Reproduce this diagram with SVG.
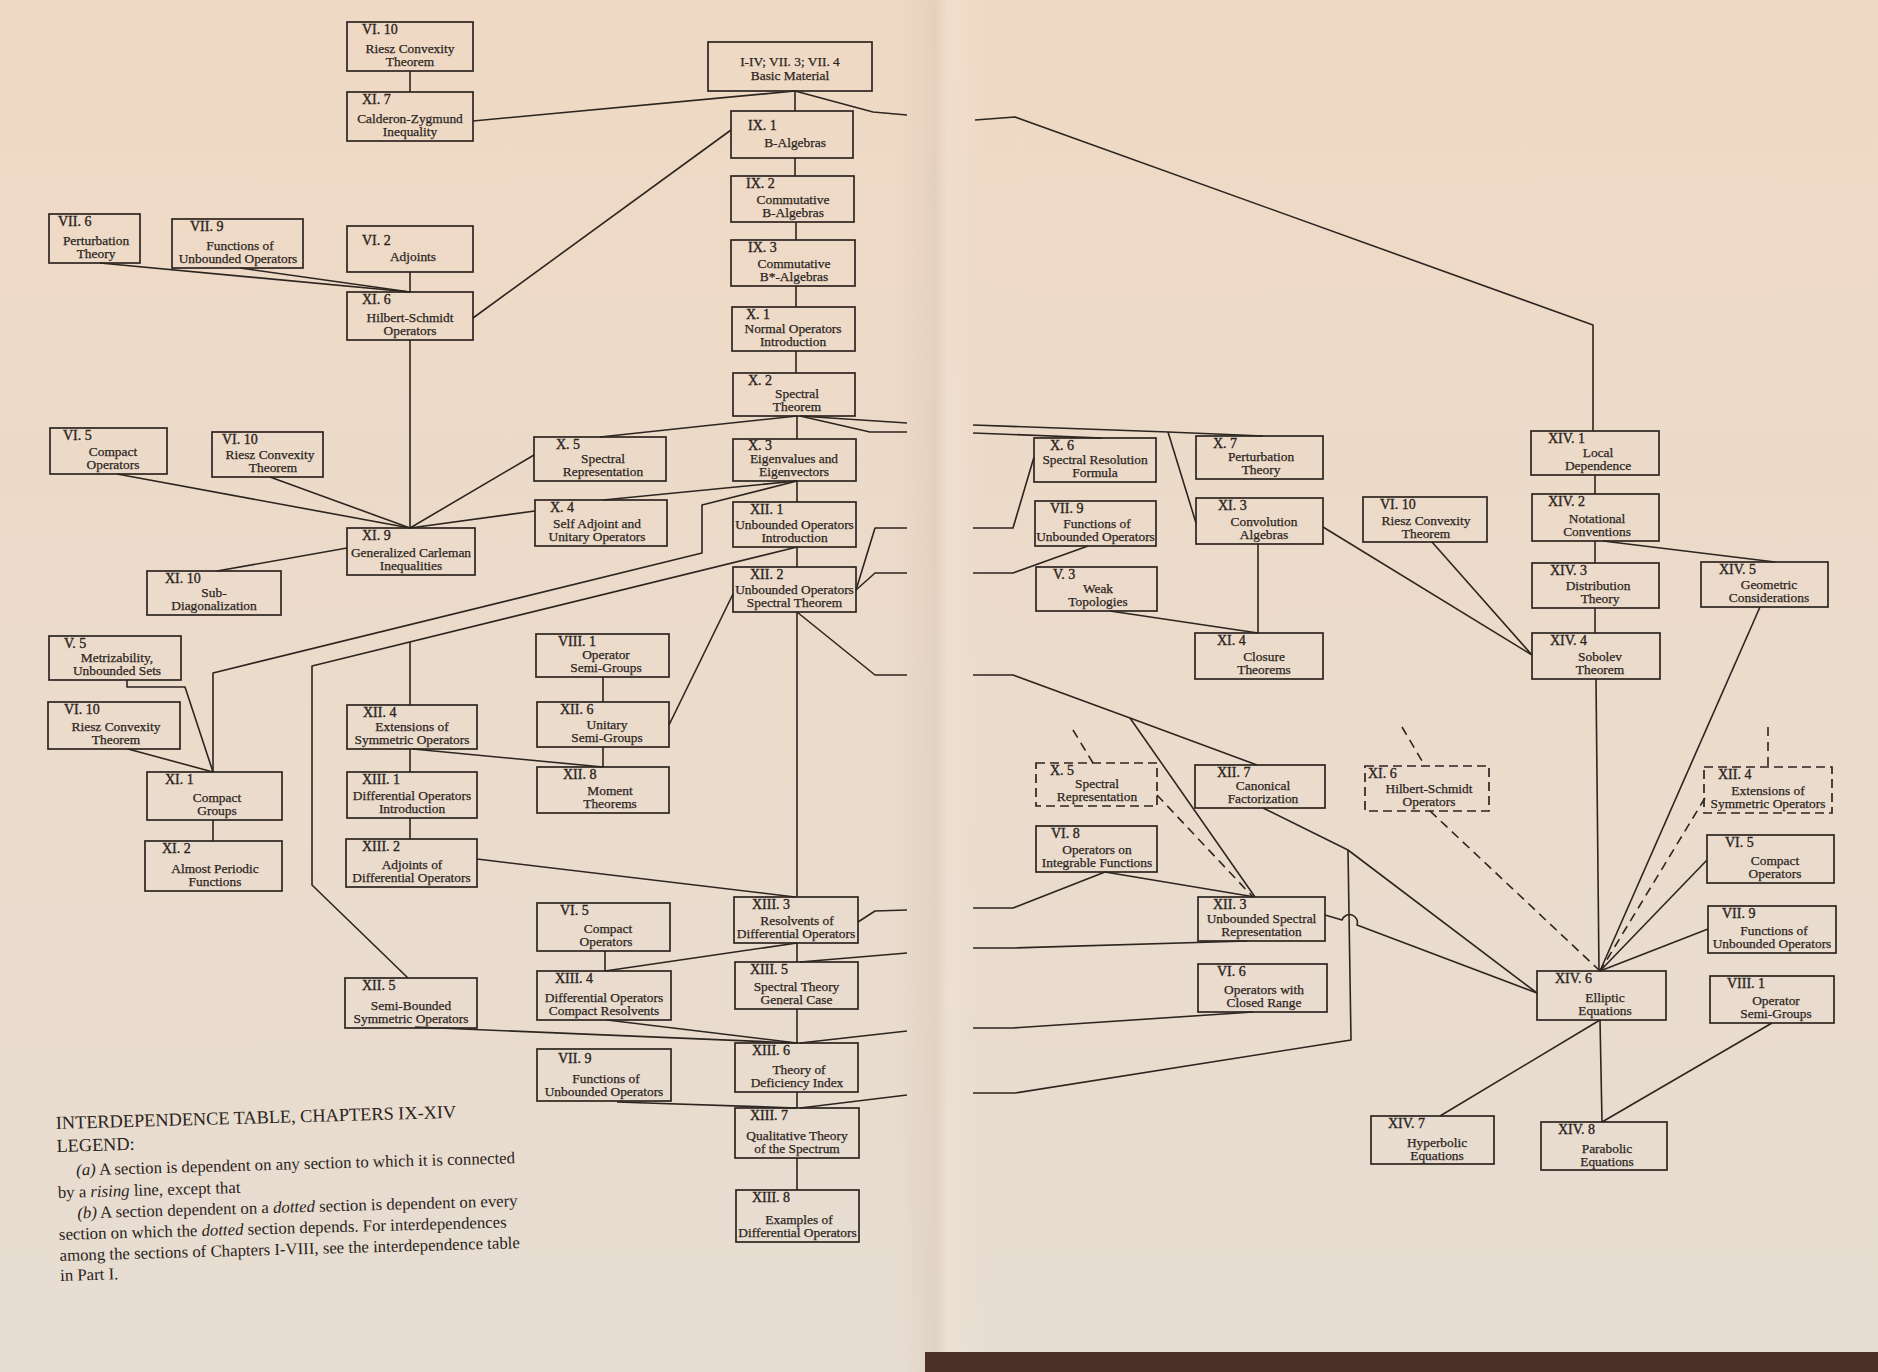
<svg xmlns="http://www.w3.org/2000/svg" width="1878" height="1372" viewBox="0 0 1878 1372">
<defs>
<linearGradient id="paper" x1="0" y1="0" x2="0" y2="1"><stop offset="0" stop-color="#efd9c4"/><stop offset="1" stop-color="#e7ddd2"/></linearGradient>
<linearGradient id="gutter" x1="0" y1="0" x2="1" y2="0"><stop offset="0" stop-color="#d8c6b2" stop-opacity="0"/><stop offset="0.45" stop-color="#d2c0ad" stop-opacity="0.35"/><stop offset="0.6" stop-color="#f4e8da" stop-opacity="0.35"/><stop offset="1" stop-color="#efe2d2" stop-opacity="0"/></linearGradient>
<style>
.box{fill:none;stroke:#2d2520;stroke-width:1.7}
.dash{stroke-dasharray:9 5}
.ln{fill:none;stroke:#2d2520;stroke-width:1.6;stroke-linejoin:round}
.dl{fill:none;stroke:#2d2520;stroke-width:1.6;stroke-dasharray:9 6}
text{font-family:"Liberation Serif","Times New Roman",serif;fill:#2b2420}
.t{font-size:13.4px;text-anchor:middle;stroke:#2b2420;stroke-width:0.25}
.n{font-size:14px;stroke:#2b2420;stroke-width:0.35}
.lg{font-size:16.8px}
.hd{font-size:18.3px}
</style>
</defs>
<rect x="0" y="0" width="1878" height="1372" fill="url(#paper)"/>
<rect x="895" y="0" width="90" height="1372" fill="url(#gutter)"/>
<rect x="925" y="1352" width="953" height="20" fill="#4b3027"/>

<g id="connectors">
<polyline class="ln" points="410,71 410,92"/>
<polyline class="ln" points="473,121 795,91"/>
<polyline class="ln" points="795,91 795,111"/>
<polyline class="ln" points="795,91 873,112 907,115"/>
<polyline class="ln" points="795,158 795,176"/>
<polyline class="ln" points="796,222 796,240"/>
<polyline class="ln" points="796,286 796,307"/>
<polyline class="ln" points="796,351 796,373"/>
<polyline class="ln" points="473,318 731,130"/>
<polyline class="ln" points="100,263 410,292"/>
<polyline class="ln" points="240,268 410,292"/>
<polyline class="ln" points="410,272 410,292"/>
<polyline class="ln" points="410,340 410,528"/>
<polyline class="ln" points="797,416 600,437"/>
<polyline class="ln" points="797,416 797,439"/>
<polyline class="ln" points="800,416 907,423"/>
<polyline class="ln" points="800,416 870,432 907,432"/>
<polyline class="ln" points="117,474 410,528"/>
<polyline class="ln" points="270,477 410,528"/>
<polyline class="ln" points="534,455 410,528"/>
<polyline class="ln" points="535,511 410,528"/>
<polyline class="ln" points="347,548 217,571"/>
<polyline class="ln" points="797,481 603,500"/>
<polyline class="ln" points="797,481 797,502"/>
<polyline class="ln" points="797,481 702,505 702,553 213,673 213,772"/>
<polyline class="ln" points="797,547 797,567"/>
<polyline class="ln" points="797,547 312,666 312,885 408,978"/>
<polyline class="ln" points="410,642 410,705"/>
<polyline class="ln" points="410,749 410,772"/>
<polyline class="ln" points="413,749 603,767"/>
<polyline class="ln" points="603,677 603,702"/>
<polyline class="ln" points="603,747 603,767"/>
<polyline class="ln" points="669,725 733,594"/>
<polyline class="ln" points="856,590 875,528 907,528"/>
<polyline class="ln" points="856,590 875,573 907,573"/>
<polyline class="ln" points="797,612 875,675 907,675"/>
<polyline class="ln" points="797,612 797,897"/>
<polyline class="ln" points="127,680 127,687 185,687 213,772"/>
<polyline class="ln" points="128,749 213,772"/>
<polyline class="ln" points="213,820 213,841"/>
<polyline class="ln" points="410,818 410,839"/>
<polyline class="ln" points="477,859 795,897"/>
<polyline class="ln" points="858,922 875,911 907,910"/>
<polyline class="ln" points="797,943 605,971"/>
<polyline class="ln" points="605,951 605,971"/>
<polyline class="ln" points="797,943 797,962"/>
<polyline class="ln" points="800,962 907,953"/>
<polyline class="ln" points="797,1009 797,1043"/>
<polyline class="ln" points="607,1020 797,1043"/>
<polyline class="ln" points="415,1027 797,1043"/>
<polyline class="ln" points="800,1043 907,1031"/>
<polyline class="ln" points="797,1092 797,1108"/>
<polyline class="ln" points="617,1102 797,1108"/>
<polyline class="ln" points="800,1108 907,1095"/>
<polyline class="ln" points="797,1158 797,1190"/>

<polyline class="ln" points="975,120 1015,117 1593,325 1593,431"/>
<polyline class="ln" points="973,425 1168,432 1263,436"/>
<polyline class="ln" points="1168,432 1196,523"/>
<polyline class="ln" points="973,433 1102,438"/>
<polyline class="ln" points="973,528 1013,528 1034,457"/>
<polyline class="ln" points="973,573 1013,573 1088,546"/>
<polyline class="ln" points="1110,611 1258,633"/>
<polyline class="ln" points="1258,544 1258,633"/>
<polyline class="ln" points="1323,527 1532,655"/>
<polyline class="ln" points="1432,542 1532,655"/>
<polyline class="ln" points="1595,475 1595,494"/>
<polyline class="ln" points="1595,541 1595,563"/>
<polyline class="ln" points="1603,541 1775,562"/>
<polyline class="ln" points="1595,608 1595,633"/>
<polyline class="ln" points="1596,679 1599,971"/>
<polyline class="ln" points="1760,607 1600,971"/>
<polyline class="ln" points="973,675 1013,675 1130,718 1257,765"/>
<polyline class="ln" points="1130,718 1255,897"/>
<polyline class="dl" points="1073,730 1093,763"/>
<polyline class="dl" points="1157,795 1253,897"/>
<polyline class="ln" points="1105,872 1255,897"/>
<polyline class="ln" points="973,908 1013,908 1105,872"/>
<polyline class="ln" points="973,948 1013,948 1247,941"/>
<polyline class="ln" points="973,1028 1013,1028 1253,1012"/>
<polyline class="ln" points="973,1093 1015,1093 1351,1040 1348,850"/>
<polyline class="ln" points="1263,808 1348,850 1537,993"/>
<path class="ln" d="M1325,915 L1342,920 A7.5,7.5 0 0 1 1357,925 L1537,993"/>
<polyline class="dl" points="1402,727 1425,766"/>
<polyline class="dl" points="1430,811 1600,971"/>
<polyline class="dl" points="1768,727 1768,767"/>
<polyline class="dl" points="1705,798 1600,971"/>
<polyline class="ln" points="1707,860 1600,971"/>
<polyline class="ln" points="1708,929 1600,971"/>
<polyline class="ln" points="1600,1020 1440,1116"/>
<polyline class="ln" points="1600,1020 1602,1122"/>
<polyline class="ln" points="1772,1023 1602,1122"/>
</g>

<g id="vi10a"><rect class="box" x="347" y="22" width="126" height="49"/><text class="n" x="362" y="34">VI. 10</text><text class="t" x="410" y="53">Riesz Convexity</text><text class="t" x="410" y="66">Theorem</text></g>
<g id="xi7"><rect class="box" x="347" y="92" width="126" height="49"/><text class="n" x="362" y="104">XI. 7</text><text class="t" x="410" y="123">Calderon-Zygmund</text><text class="t" x="410" y="136">Inequality</text></g>
<g id="basic"><rect class="box" x="708" y="42" width="164" height="49"/><text class="t" x="790" y="66">I-IV; VII. 3; VII. 4</text><text class="t" x="790" y="80">Basic Material</text></g>
<g id="ix1"><rect class="box" x="731" y="111" width="122" height="47"/><text class="n" x="748" y="130">IX. 1</text><text class="t" x="795" y="147">B-Algebras</text></g>
<g id="ix2"><rect class="box" x="731" y="176" width="123" height="46"/><text class="n" x="746" y="188">IX. 2</text><text class="t" x="793" y="204">Commutative</text><text class="t" x="793" y="217">B-Algebras</text></g>
<g id="ix3"><rect class="box" x="731" y="240" width="124" height="46"/><text class="n" x="748" y="252">IX. 3</text><text class="t" x="794" y="268">Commutative</text><text class="t" x="794" y="281">B*-Algebras</text></g>
<g id="x1"><rect class="box" x="732" y="307" width="123" height="44"/><text class="n" x="746" y="319">X. 1</text><text class="t" x="793" y="333">Normal Operators</text><text class="t" x="793" y="346">Introduction</text></g>
<g id="x2"><rect class="box" x="733" y="373" width="122" height="43"/><text class="n" x="748" y="385">X. 2</text><text class="t" x="797" y="398">Spectral</text><text class="t" x="797" y="411">Theorem</text></g>
<g id="vii6a"><rect class="box" x="49" y="214" width="91" height="49"/><text class="n" x="58" y="226">VII. 6</text><text class="t" x="96" y="245">Perturbation</text><text class="t" x="96" y="258">Theory</text></g>
<g id="vii9a"><rect class="box" x="172" y="219" width="131" height="49"/><text class="n" x="190" y="231">VII. 9</text><text class="t" x="240" y="250">Functions of</text><text class="t" x="238" y="263">Unbounded Operators</text></g>
<g id="vi2"><rect class="box" x="347" y="226" width="126" height="46"/><text class="n" x="362" y="245">VI. 2</text><text class="t" x="413" y="261">Adjoints</text></g>
<g id="xi6"><rect class="box" x="347" y="292" width="126" height="48"/><text class="n" x="362" y="304">XI. 6</text><text class="t" x="410" y="322">Hilbert-Schmidt</text><text class="t" x="410" y="335">Operators</text></g>
<g id="vi5a"><rect class="box" x="50" y="428" width="117" height="46"/><text class="n" x="63" y="440">VI. 5</text><text class="t" x="113" y="456">Compact</text><text class="t" x="113" y="469">Operators</text></g>
<g id="vi10b"><rect class="box" x="212" y="432" width="111" height="45"/><text class="n" x="222" y="444">VI. 10</text><text class="t" x="270" y="459">Riesz Convexity</text><text class="t" x="273" y="472">Theorem</text></g>
<g id="x5"><rect class="box" x="534" y="437" width="132" height="44"/><text class="n" x="556" y="449">X. 5</text><text class="t" x="603" y="463">Spectral</text><text class="t" x="603" y="476">Representation</text></g>
<g id="x3"><rect class="box" x="733" y="439" width="123" height="42"/><text class="n" x="748" y="450">X. 3</text><text class="t" x="794" y="463">Eigenvalues and</text><text class="t" x="794" y="476">Eigenvectors</text></g>
<g id="x4"><rect class="box" x="535" y="500" width="132" height="46"/><text class="n" x="550" y="512">X. 4</text><text class="t" x="597" y="528">Self Adjoint and</text><text class="t" x="597" y="541">Unitary Operators</text></g>
<g id="xii1"><rect class="box" x="733" y="502" width="123" height="45"/><text class="n" x="750" y="514">XII. 1</text><text class="t" x="794.5" y="529">Unbounded Operators</text><text class="t" x="794.5" y="542">Introduction</text></g>
<g id="xi9"><rect class="box" x="347" y="528" width="128" height="47"/><text class="n" x="362" y="540">XI. 9</text><text class="t" x="411" y="557">Generalized Carleman</text><text class="t" x="411" y="570">Inequalities</text></g>
<g id="xi10"><rect class="box" x="147" y="571" width="134" height="44"/><text class="n" x="165" y="583">XI. 10</text><text class="t" x="214" y="597">Sub-</text><text class="t" x="214" y="610">Diagonalization</text></g>
<g id="xii2"><rect class="box" x="733" y="567" width="123" height="45"/><text class="n" x="750" y="579">XII. 2</text><text class="t" x="794.5" y="594">Unbounded Operators</text><text class="t" x="794.5" y="607">Spectral Theorem</text></g>
<g id="v5"><rect class="box" x="49" y="636" width="132" height="44"/><text class="n" x="64" y="648">V. 5</text><text class="t" x="117" y="662">Metrizability,</text><text class="t" x="117" y="675">Unbounded Sets</text></g>
<g id="viii1a"><rect class="box" x="536" y="634" width="133" height="43"/><text class="n" x="558" y="646">VIII. 1</text><text class="t" x="606" y="659">Operator</text><text class="t" x="606" y="672">Semi-Groups</text></g>
<g id="vi10c"><rect class="box" x="48" y="702" width="132" height="47"/><text class="n" x="64" y="714">VI. 10</text><text class="t" x="116" y="731">Riesz Convexity</text><text class="t" x="116" y="744">Theorem</text></g>
<g id="xii4"><rect class="box" x="347" y="705" width="130" height="44"/><text class="n" x="363" y="717">XII. 4</text><text class="t" x="412" y="731">Extensions of</text><text class="t" x="412" y="744">Symmetric Operators</text></g>
<g id="xii6"><rect class="box" x="537" y="702" width="132" height="45"/><text class="n" x="560" y="714">XII. 6</text><text class="t" x="607" y="729">Unitary</text><text class="t" x="607" y="742">Semi-Groups</text></g>
<g id="xi1"><rect class="box" x="147" y="772" width="135" height="48"/><text class="n" x="165" y="784">XI. 1</text><text class="t" x="217" y="802">Compact</text><text class="t" x="217" y="815">Groups</text></g>
<g id="xiii1"><rect class="box" x="347" y="772" width="130" height="46"/><text class="n" x="362" y="784">XIII. 1</text><text class="t" x="412" y="800">Differential Operators</text><text class="t" x="412" y="813">Introduction</text></g>
<g id="xii8"><rect class="box" x="537" y="767" width="132" height="46"/><text class="n" x="563" y="779">XII. 8</text><text class="t" x="610" y="795">Moment</text><text class="t" x="610" y="808">Theorems</text></g>
<g id="xi2"><rect class="box" x="145" y="841" width="137" height="50"/><text class="n" x="162" y="853">XI. 2</text><text class="t" x="215" y="873">Almost Periodic</text><text class="t" x="215" y="886">Functions</text></g>
<g id="xiii2"><rect class="box" x="346" y="839" width="131" height="48"/><text class="n" x="362" y="851">XIII. 2</text><text class="t" x="412" y="869">Adjoints of</text><text class="t" x="411.5" y="882">Differential Operators</text></g>
<g id="xiii3"><rect class="box" x="734" y="897" width="124" height="46"/><text class="n" x="752" y="909">XIII. 3</text><text class="t" x="797" y="925">Resolvents of</text><text class="t" x="796" y="938">Differential Operators</text></g>
<g id="vi5b"><rect class="box" x="537" y="903" width="133" height="48"/><text class="n" x="560" y="915">VI. 5</text><text class="t" x="608" y="933">Compact</text><text class="t" x="606" y="946">Operators</text></g>
<g id="xiii5"><rect class="box" x="735" y="962" width="123" height="47"/><text class="n" x="750" y="974">XIII. 5</text><text class="t" x="796.5" y="991">Spectral Theory</text><text class="t" x="796.5" y="1004">General Case</text></g>
<g id="xiii4"><rect class="box" x="537" y="971" width="134" height="49"/><text class="n" x="555" y="983">XIII. 4</text><text class="t" x="604" y="1002">Differential Operators</text><text class="t" x="604" y="1015">Compact Resolvents</text></g>
<g id="xii5"><rect class="box" x="345" y="978" width="132" height="50"/><text class="n" x="362" y="990">XII. 5</text><text class="t" x="411" y="1010">Semi-Bounded</text><text class="t" x="411" y="1023">Symmetric Operators</text></g>
<g id="xiii6"><rect class="box" x="735" y="1043" width="123" height="49"/><text class="n" x="752" y="1055">XIII. 6</text><text class="t" x="799" y="1074">Theory of</text><text class="t" x="797" y="1087">Deficiency Index</text></g>
<g id="vii9b"><rect class="box" x="537" y="1049" width="134" height="52"/><text class="n" x="558" y="1063">VII. 9</text><text class="t" x="606" y="1083">Functions of</text><text class="t" x="604" y="1096">Unbounded Operators</text></g>
<g id="xiii7"><rect class="box" x="735" y="1108" width="124" height="50"/><text class="n" x="750" y="1120">XIII. 7</text><text class="t" x="797" y="1140">Qualitative Theory</text><text class="t" x="797" y="1153">of the Spectrum</text></g>
<g id="xiii8"><rect class="box" x="736" y="1190" width="123" height="52"/><text class="n" x="752" y="1202">XIII. 8</text><text class="t" x="799" y="1224">Examples of</text><text class="t" x="797.5" y="1237">Differential Operators</text></g>

<g id="x6"><rect class="box" x="1034" y="438" width="122" height="44"/><text class="n" x="1050" y="450">X. 6</text><text class="t" x="1095" y="464">Spectral Resolution</text><text class="t" x="1095" y="477">Formula</text></g>
<g id="x7"><rect class="box" x="1196" y="436" width="127" height="43"/><text class="n" x="1213" y="448">X. 7</text><text class="t" x="1261" y="461">Perturbation</text><text class="t" x="1261" y="474">Theory</text></g>
<g id="xiv1"><rect class="box" x="1531" y="431" width="128" height="44"/><text class="n" x="1548" y="443">XIV. 1</text><text class="t" x="1598" y="457">Local</text><text class="t" x="1598" y="470">Dependence</text></g>
<g id="vii9c"><rect class="box" x="1035" y="501" width="121" height="45"/><text class="n" x="1050" y="513">VII. 9</text><text class="t" x="1097" y="528">Functions of</text><text class="t" x="1095.5" y="541">Unbounded Operators</text></g>
<g id="xi3"><rect class="box" x="1196" y="498" width="127" height="46"/><text class="n" x="1218" y="510">XI. 3</text><text class="t" x="1264" y="526">Convolution</text><text class="t" x="1264" y="539">Algebras</text></g>
<g id="vi10d"><rect class="box" x="1363" y="497" width="124" height="45"/><text class="n" x="1380" y="509">VI. 10</text><text class="t" x="1426" y="525">Riesz Convexity</text><text class="t" x="1426" y="538">Theorem</text></g>
<g id="xiv2"><rect class="box" x="1532" y="494" width="127" height="47"/><text class="n" x="1548" y="506">XIV. 2</text><text class="t" x="1597" y="523">Notational</text><text class="t" x="1597" y="536">Conventions</text></g>
<g id="v3"><rect class="box" x="1036" y="567" width="121" height="44"/><text class="n" x="1053" y="579">V. 3</text><text class="t" x="1098" y="593">Weak</text><text class="t" x="1098" y="606">Topologies</text></g>
<g id="xiv3"><rect class="box" x="1532" y="563" width="127" height="45"/><text class="n" x="1550" y="575">XIV. 3</text><text class="t" x="1598" y="590">Distribution</text><text class="t" x="1600" y="603">Theory</text></g>
<g id="xiv5"><rect class="box" x="1701" y="562" width="127" height="45"/><text class="n" x="1719" y="574">XIV. 5</text><text class="t" x="1769" y="589">Geometric</text><text class="t" x="1769" y="602">Considerations</text></g>
<g id="xi4"><rect class="box" x="1195" y="633" width="128" height="46"/><text class="n" x="1217" y="645">XI. 4</text><text class="t" x="1264" y="661">Closure</text><text class="t" x="1264" y="674">Theorems</text></g>
<g id="xiv4"><rect class="box" x="1532" y="633" width="128" height="46"/><text class="n" x="1550" y="645">XIV. 4</text><text class="t" x="1600" y="661">Sobolev</text><text class="t" x="1600" y="674">Theorem</text></g>
<g id="x5d"><rect class="box dash" x="1036" y="763" width="121" height="43"/><text class="n" x="1050" y="775">X. 5</text><text class="t" x="1097" y="788">Spectral</text><text class="t" x="1097" y="801">Representation</text></g>
<g id="xii7"><rect class="box" x="1195" y="765" width="130" height="43"/><text class="n" x="1217" y="777">XII. 7</text><text class="t" x="1263" y="790">Canonical</text><text class="t" x="1263" y="803">Factorization</text></g>
<g id="xi6d"><rect class="box dash" x="1365" y="766" width="124" height="45"/><text class="n" x="1368" y="778">XI. 6</text><text class="t" x="1429" y="793">Hilbert-Schmidt</text><text class="t" x="1429" y="806">Operators</text></g>
<g id="xii4d"><rect class="box dash" x="1704" y="767" width="128" height="46"/><text class="n" x="1718" y="779">XII. 4</text><text class="t" x="1768" y="795">Extensions of</text><text class="t" x="1768" y="808">Symmetric Operators</text></g>
<g id="vi8"><rect class="box" x="1036" y="826" width="121" height="46"/><text class="n" x="1051" y="838">VI. 8</text><text class="t" x="1097" y="854">Operators on</text><text class="t" x="1097" y="867">Integrable Functions</text></g>
<g id="vi5c"><rect class="box" x="1707" y="835" width="127" height="48"/><text class="n" x="1725" y="847">VI. 5</text><text class="t" x="1775" y="865">Compact</text><text class="t" x="1775" y="878">Operators</text></g>
<g id="xii3"><rect class="box" x="1198" y="897" width="127" height="44"/><text class="n" x="1213" y="909">XII. 3</text><text class="t" x="1261.5" y="923">Unbounded Spectral</text><text class="t" x="1261.5" y="936">Representation</text></g>
<g id="vii9d"><rect class="box" x="1708" y="906" width="128" height="47"/><text class="n" x="1722" y="918">VII. 9</text><text class="t" x="1774" y="935">Functions of</text><text class="t" x="1772" y="948">Unbounded Operators</text></g>
<g id="vi6"><rect class="box" x="1198" y="964" width="129" height="48"/><text class="n" x="1217" y="976">VI. 6</text><text class="t" x="1264" y="994">Operators with</text><text class="t" x="1264" y="1007">Closed Range</text></g>
<g id="xiv6"><rect class="box" x="1537" y="971" width="129" height="49"/><text class="n" x="1555" y="983">XIV. 6</text><text class="t" x="1605" y="1002">Elliptic</text><text class="t" x="1605" y="1015">Equations</text></g>
<g id="viii1b"><rect class="box" x="1710" y="976" width="124" height="47"/><text class="n" x="1727" y="988">VIII. 1</text><text class="t" x="1776" y="1005">Operator</text><text class="t" x="1776" y="1018">Semi-Groups</text></g>
<g id="xiv7"><rect class="box" x="1371" y="1116" width="123" height="48"/><text class="n" x="1388" y="1128">XIV. 7</text><text class="t" x="1437" y="1147">Hyperbolic</text><text class="t" x="1437" y="1160">Equations</text></g>
<g id="xiv8"><rect class="box" x="1541" y="1122" width="126" height="48"/><text class="n" x="1558" y="1134">XIV. 8</text><text class="t" x="1607" y="1153">Parabolic</text><text class="t" x="1607" y="1166">Equations</text></g>

<g id="legend" transform="rotate(-1.6 56 1129)">
<text class="hd" x="56" y="1129">INTERDEPENDENCE TABLE, CHAPTERS IX-XIV</text>
<text class="hd" x="56" y="1152">LEGEND:</text>
<text class="lg" x="75" y="1176"><tspan font-style="italic">(a)</tspan> A section is dependent on any section to which it is connected</text>
<text class="lg" x="56" y="1198">by a <tspan font-style="italic">rising</tspan> line, except that</text>
<text class="lg" x="75" y="1219"><tspan font-style="italic">(b)</tspan> A section dependent on a <tspan font-style="italic">dotted</tspan> section is dependent on every</text>
<text class="lg" x="56" y="1240">section on which the <tspan font-style="italic">dotted</tspan> section depends. For interdependences</text>
<text class="lg" x="56" y="1261">among the sections of Chapters I-VIII, see the interdependence table</text>
<text class="lg" x="56" y="1281">in Part I.</text>
</g>
</svg>
